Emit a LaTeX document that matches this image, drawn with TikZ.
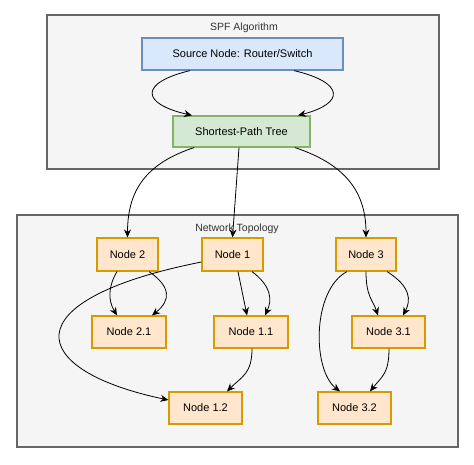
\documentclass[tikz,border=0pt]{standalone}
\usepackage{fontspec}
\setmainfont{Liberation Sans}
\usetikzlibrary{arrows.meta}
\definecolor{clfill}{HTML}{F5F5F5}
\definecolor{cldraw}{HTML}{666666}
\definecolor{bfill}{HTML}{DAE8FC}
\definecolor{bdraw}{HTML}{6C8EBF}
\definecolor{gfill}{HTML}{D5E8D4}
\definecolor{gdraw}{HTML}{82B366}
\definecolor{ofill}{HTML}{FFE6CC}
\definecolor{odraw}{HTML}{D79B00}
\definecolor{lbl}{HTML}{333333}
\tikzset{
  cluster/.style={draw=cldraw,fill=clfill,line width=1.2pt},
  clabel/.style={text=lbl,font=\fontsize{10.5}{12}\selectfont,inner sep=0pt},
  box/.style={rectangle,line width=1.2pt,inner sep=0pt,font=\fontsize{11}{13}\selectfont,text=black},
  bluebox/.style={box,draw=bdraw,fill=bfill},
  greenbox/.style={box,draw=gdraw,fill=gfill},
  orangebox/.style={box,draw=odraw,fill=ofill},
  edge/.style={draw=black,line width=0.8pt,-{Stealth[length=8pt,width=7pt]}}
}
\begin{document}
\begin{tikzpicture}[x=1pt,y=-1pt]
\useasboundingbox (0,0) rectangle (474,464);
% clusters
\draw[cluster] (47,15) rectangle (439,169);
\draw[cluster] (17,215) rectangle (458,447);
\node[clabel] (lspf) at (244,28) {SPF Algorithm};
\node[clabel] (lnet) at (237,229) {Network Topology};
% nodes
\node[bluebox,minimum width=201pt,minimum height=32pt] (src) at (242.5,54) {Source Node: Router/Switch};
\node[greenbox,minimum width=137pt,minimum height=31pt] (spt) at (241.5,131.5) {Shortest-Path Tree};
\node[orangebox,minimum width=61pt,minimum height=33pt] (n2) at (127.5,254.5) {Node 2};
\node[orangebox,minimum width=61pt,minimum height=33pt] (n1) at (232.5,254.5) {Node 1};
\node[orangebox,minimum width=60pt,minimum height=33pt] (n3) at (366,254.5) {Node 3};
\node[orangebox,minimum width=74pt,minimum height=32pt] (n21) at (129,332) {Node 2.1};
\node[orangebox,minimum width=74pt,minimum height=32pt] (n11) at (251,332) {Node 1.1};
\node[orangebox,minimum width=73pt,minimum height=32pt] (n31) at (388.5,332) {Node 3.1};
\node[orangebox,minimum width=73pt,minimum height=32pt] (n12) at (205.5,408) {Node 1.2};
\node[orangebox,minimum width=73pt,minimum height=32pt] (n32) at (354.5,408) {Node 3.2};
% edges
\draw[edge] ([xshift=-52.5pt]src.south) .. controls +(-50,12) and +(-52,-12) .. ([xshift=-49.5pt]spt.north);
\draw[edge] ([xshift=51.5pt]src.south) .. controls +(51,12) and +(47,-12) .. ([xshift=56.5pt]spt.north);
\draw[edge] ([xshift=-47.5pt]spt.south) .. controls +(-45,15) and +(0,-50) .. (n2.north);
\draw[edge] ([xshift=-2.5pt]spt.south) -- (n1.north);
\draw[edge] ([xshift=53.5pt]spt.south) .. controls +(45,15) and +(0,-50) .. (n3.north);
\draw[edge] ([xshift=-10.5pt]n2.south) .. controls +(-9,15) and +(-9,-15) .. ([xshift=-12pt]n21.north);
\draw[edge] ([xshift=21.5pt]n2.south) .. controls +(22,15) and +(19,-15) .. ([xshift=23pt]n21.north);
\draw[edge] ([xshift=5.5pt]n1.south) -- ([xshift=-4pt]n11.north);
\draw[edge] ([xshift=19.5pt]n1.south) .. controls +(20,15) and +(7,-15) .. ([xshift=14pt]n11.north);
\draw[edge] ([yshift=-7.5pt]n1.west) .. controls (10,300) and (26,370) .. ([yshift=8pt]n12.west);
\draw[edge] ([xshift=1pt]n11.south) .. controls +(0,25) and +(15,-15) .. ([xshift=21.5pt]n12.north);
\draw[edge] (n3.south) .. controls +(0,25) and +(-5,-15) .. ([xshift=-10.5pt]n31.north);
\draw[edge] ([xshift=21pt]n3.south) .. controls +(24,15) and +(8,-15) .. ([xshift=14.5pt]n31.north);
\draw[edge] ([xshift=-19pt]n3.south) .. controls (312,290) and (312,370) .. ([xshift=-14.5pt]n32.north);
\draw[edge] ([xshift=0.5pt]n31.south) .. controls +(0,25) and +(12,-15) .. ([xshift=15.5pt]n32.north);
\end{tikzpicture}
\end{document}
